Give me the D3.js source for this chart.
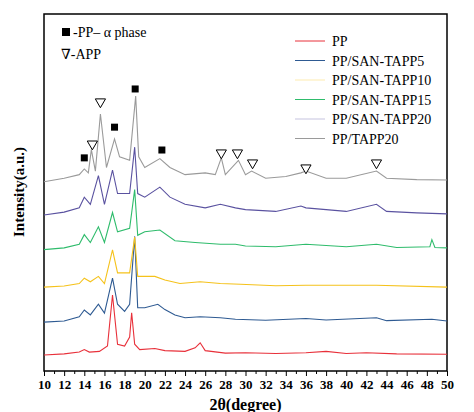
<!DOCTYPE html>
<html>
<head>
<meta charset="utf-8">
<script src="https://cdn.jsdelivr.net/npm/d3@7"></script>
<style>
  body { margin: 0; background: #fff; }
  text { font-family: "Liberation Serif", "DejaVu Serif", serif; }
</style>
</head>
<body>
<svg id="chart" width="474" height="412"></svg>
<script>
// series names, colours, vertical offsets (a.u.)
var names = ["PP", "PP/SAN-TAPP5", "PP/SAN-TAPP10", "PP/SAN-TAPP15", "PP/SAN-TAPP20", "PP/TAPP20"];
var colors = ["#e8303a", "#2e5a92", "#f5c21b", "#2fbc6c", "#5a52a0", "#9a9a9a"];
var offsets = [4.5, 13.7, 23.5, 34, 43.7, 53];

// [2theta, intensity above baseline]
var ppData = [[10,0],[12,0.3],[13.5,0.8],[14,1.5],[14.5,0.8],[15.5,1],[16.3,2.5],[16.8,16.8],[17.3,3],[18,2.5],[18.5,5],[18.7,11.8],[19,3],[19.5,1.5],[21,1.8],[22,1.2],[24,1],[25,2],[25.5,3.4],[26,1.2],[28,0.5],[30,0.6],[33,0.4],[36,0.6],[38,1],[40,0.4],[42,0.6],[45,0.3],[50,0.2]];
var san5Data = [[10,0],[12,0.3],[13.5,1.5],[14,3.4],[14.6,2],[15.4,5],[16,2.5],[16.8,12.3],[17.3,5],[18,3],[18.5,5],[19,24],[19.3,4],[20,4],[21.3,5],[22,3.5],[23,2],[24,1.2],[25.5,1.5],[27.5,1.2],[29,0.8],[32,0.5],[36,1],[38,0.6],[43,1.2],[44,0.4],[48.5,0.8],[50,0.3]];
var san10Data = [[10,0],[12,0.3],[13.5,1],[14,2.5],[14.6,1.5],[15.4,3],[16,1],[16.8,10.4],[17.3,4],[18.5,4],[19,14],[19.3,3],[21,3],[22,2],[23.5,1],[25.5,1.5],[27.5,1],[29.5,0.8],[33,0.4],[36,0.5],[43,0.5],[50,0]];
var san15Data = [[10,0],[12,0.5],[13.5,1.5],[14,4.2],[14.6,2],[15.4,6.4],[16,2],[16.8,10.4],[17.3,5],[18.5,6],[19,16.8],[19.3,4],[20,5],[21.5,5.5],[23,2.5],[25,2],[27.5,1.5],[29,1.5],[30,1],[33,0.8],[36,1.5],[40,0.8],[43,1.5],[45,0.6],[48.3,0.8],[48.5,2.8],[48.8,0.6],[50,0.5]];
var san20Data = [[10,0],[12,0.8],[13.5,2],[14,5],[14.6,3],[15.4,11],[16,3],[16.8,12.6],[17.3,6],[18.5,6],[19,19],[19.3,6],[20,5],[21.5,7.8],[22.5,5],[24,3],[26,2],[27.5,3],[29,2],[30,1.5],[33,1],[35.5,2.5],[36,2],[40,1],[43,3],[44,1],[47,0.6],[50,0.3]];
var tappData = [[10,0],[12,1],[13.5,2],[14,3.6],[14.4,2.5],[14.7,9],[15.1,3],[15.6,19],[16.2,4],[17,12],[17.5,7],[18.5,6],[19.1,24],[19.4,7],[20,4],[21.5,6.5],[22.5,4],[24,2],[26,2.5],[27,2],[27.6,6.7],[28,2],[29.3,6],[30,2],[30.6,3],[32,1],[34,1.5],[35.5,2.5],[36,3],[38,1],[40,1],[43,3],[44,1],[47,0.6],[50,0.5]];
var allData = [ppData, san5Data, san10Data, san15Data, san20Data, tappData];

// peak markers [2theta, intensity]
var squareMarks = [[14.0, 59.7], [17.0, 68.3], [19.05, 79], [21.7, 61.9]];
var triMarks = [[14.8, 63.6], [15.6, 75.4], [27.6, 61.1], [29.2, 61.1], [30.7, 58.3], [36.0, 56.9], [43.0, 58.3]];

var xTicks = d3.range(10, 51, 2);

var svg = d3.select("#chart");
var m = {left: 44, right: 447, top: 14, bottom: 371};
var x = d3.scaleLinear().domain([10, 50]).range([m.left, m.right]);
var y = d3.scaleLinear().domain([0, 100]).range([m.bottom, m.top]);

// frame
svg.append("rect").attr("x", m.left).attr("y", m.top)
  .attr("width", m.right - m.left).attr("height", m.bottom - m.top)
  .attr("fill", "none").attr("stroke", "#000").attr("stroke-width", 1.5);

// x axis
var xAxis = svg.append("g").attr("transform", "translate(0," + m.bottom + ")")
  .call(d3.axisBottom(x).tickValues(xTicks).tickSize(5).tickPadding(4));
xAxis.select(".domain").remove();
xAxis.selectAll("text").attr("font-size", 13).attr("font-weight", "bold")
  .attr("font-family", "Liberation Serif, serif").attr("fill", "#000");
svg.append("g").attr("transform", "translate(0," + m.bottom + ")")
  .call(d3.axisBottom(x).tickValues(d3.range(11, 50, 2)).tickSize(3).tickFormat(""))
  .select(".domain").remove();

svg.append("text").attr("x", (m.left + m.right) / 2).attr("y", 410)
  .attr("text-anchor", "middle").attr("font-size", 16).attr("font-weight", "bold")
  .text("2θ(degree)");
svg.append("text").attr("transform", "translate(24,192) rotate(-90)")
  .attr("text-anchor", "middle").attr("font-size", 15).attr("font-weight", "bold")
  .text("Intensity(a.u.)");

// curves
var line = d3.line().x(d => x(d[0])).y(d => y(d[1]));
allData.forEach(function(data, i) {
  svg.append("path")
    .datum(data.map(d => [d[0], d[1] + offsets[i]]))
    .attr("d", line).attr("fill", "none")
    .attr("stroke", colors[i]).attr("stroke-width", 1.1);
});

// markers
svg.selectAll(".sq").data(squareMarks).enter().append("rect")
  .attr("x", d => x(d[0]) - 3.5).attr("y", d => y(d[1]) - 3.5)
  .attr("width", 7).attr("height", 7).attr("fill", "#000");
var tri = d3.symbol().type(d3.symbolTriangle).size(45);
svg.selectAll(".tri").data(triMarks).enter().append("path")
  .attr("d", tri)
  .attr("transform", d => "translate(" + x(d[0]) + "," + y(d[1]) + ") rotate(180)")
  .attr("fill", "#fff").attr("stroke", "#000").attr("stroke-width", 1);

// annotation
svg.append("rect").attr("x", 62).attr("y", 28).attr("width", 8).attr("height", 8).attr("fill", "#000");
svg.append("text").attr("x", 73).attr("y", 37).attr("font-size", 14).text("-PP–  α phase");
svg.append("text").attr("x", 61).attr("y", 59).attr("font-size", 14).text("∇-APP");

// legend
var leg = svg.append("g");
names.forEach(function(n, i) {
  var ly = 41 + i * 19.5;
  leg.append("line").attr("x1", 295).attr("x2", 325).attr("y1", ly).attr("y2", ly)
    .attr("stroke", colors[i]).attr("stroke-width", 1).attr("stroke-opacity", (i == 2 || i == 4) ? 0.35 : 1);
  leg.append("text").attr("x", 332).attr("y", ly + 5).attr("font-size", 14).text(n);
});
</script>
</body>
</html>
